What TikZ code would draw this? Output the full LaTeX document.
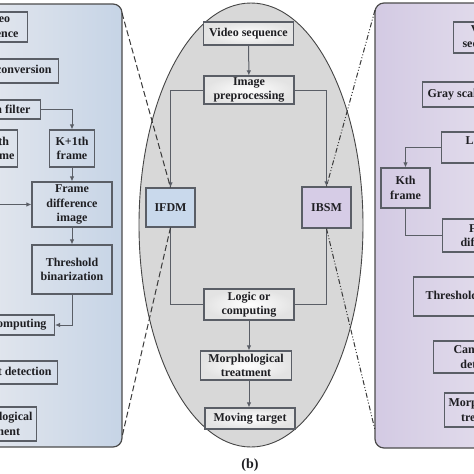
\documentclass[tikz,border=0pt]{standalone}
\usepackage{fontspec}
\setmainfont{Liberation Serif}
\usetikzlibrary{arrows.meta}
\definecolor{edge}{HTML}{5A5E66}
\definecolor{txt}{HTML}{1E1E22}
\definecolor{lpanL}{HTML}{E8EAEF}
\definecolor{lpanR}{HTML}{C6D4E6}
\definecolor{rpanL}{HTML}{D3CAE3}
\definecolor{rpanR}{HTML}{E7E2EF}
\definecolor{ellc}{HTML}{D8D8D8}
\definecolor{ifdmc}{HTML}{C9D9EC}
\definecolor{ibsmc}{HTML}{D6CCE6}
\begin{document}
\begin{tikzpicture}[
			x=1pt, y=-1pt,
			box/.style={draw=edge, line width=1.1pt, font=\bfseries\fontsize{12}{14.5}\selectfont, text=txt, align=center, inner ysep=0pt},
			midbox/.style={box, inner color=white, outer color=gray!22, minimum width=90pt},
			pbox/.style={box, inner xsep=#1},
			arr/.style={draw=edge, line width=1pt, -{Latex[length=5pt,width=4.5pt]}},
			link/.style={draw=edge, line width=1pt},
			zoomline/.style={draw=gray!45!black, line width=1pt}
			]
			\useasboundingbox (0,0) rectangle (474,474);
			\clip (0,0) rectangle (474,474);
			
			% panels and ellipse
			\draw[draw=gray!60!black, line width=1.2pt, rounded corners=9pt, left color=lpanL, right color=lpanR] (-40,4) rectangle (122,447);
			\draw[draw=gray!60!black, line width=1.2pt, rounded corners=9pt, left color=rpanL, right color=rpanR] (375,3) rectangle (530,448);
			\draw[fill=ellc, draw=gray!55!black, line width=0.9pt] (251,225) ellipse [x radius=112, y radius=222];
			
			% middle flow
			\node[midbox, minimum height=23pt] (vseq) at (248.5,33.5) {Video sequence};
			\node[midbox, minimum height=28pt] (prep) at (249,90) {Image\\preprocessing};
			\node[box, fill=ifdmc, minimum width=49pt, minimum height=39pt] (ifdm) at (170.5,207.5) {IFDM};
			\node[box, fill=ibsmc, minimum width=49pt, minimum height=41pt] (ibsm) at (326.5,207.5) {IBSM};
			\node[midbox, minimum height=31pt] (logic) at (249,304.5) {Logic or\\computing};
			\node[midbox, minimum width=91pt, minimum height=29pt] (morph) at (246,365.5) {Morphological\\treatment};
			\node[midbox, minimum height=21pt] (target) at (250,418.5) {Moving target};
			\node[font=\bfseries\fontsize{14}{16}\selectfont, text=txt] (cap) at (250,465) {(b)};
			
			\draw[arr] (vseq) -- (prep);
			\draw[arr] (prep.west) -| (ifdm.north);
			\draw[arr] (prep.east) -| (ibsm.north);
			\draw[link] (ifdm.south) |- (logic.west);
			\draw[link] (ibsm.south) |- (logic.east);
			\draw[arr] (logic.south) -- (logic.south |- morph.north);
			\draw[arr] (logic.south |- morph.south) -- (logic.south |- target.north);
			
			% left panel (IFDM)
			\node[pbox=9pt, anchor=east, minimum height=30pt] (lvid) at (28,27) {Video\\sequence};
			\node[pbox=7pt, anchor=east, minimum height=24pt] (lgray) at (59,71) {Gray conversion};
			\node[pbox=10pt, anchor=east, minimum height=19pt] (lfilt) at (41,109.5) {Median filter};
			\node[pbox=3pt, anchor=east, minimum height=37pt] (lkth) at (18,148.5) {Kth\\frame};
			\node[box, minimum width=45pt, minimum height=37pt] (lkp1) at (72,148.5) {K+1th\\frame};
			\node[box, minimum width=80pt, minimum height=45pt] (lfd) at (72,204.5) {Frame\\difference\\image};
			\node[box, minimum width=80pt, minimum height=49pt] (lthr) at (72,269.5) {Threshold\\binarization};
			\node[pbox=8pt, anchor=east, minimum height=20pt] (llog) at (55,325) {Logic or computing};
			\node[pbox=6pt, anchor=east, minimum height=23pt] (ldet) at (58,372.5) {Target detection};
			\node[pbox=4pt, anchor=east, minimum height=34pt] (lmor) at (37,424) {Morphological\\treatment};
			
			\draw[arr] (lfilt.east) -| (lkp1.north);
			\draw[arr] (lkp1) -- (lfd);
			\draw[arr] (lkth.south) |- (lfd.west);
			\draw[arr] (lfd) -- (lthr);
			\draw[arr] (lthr.south) |- (llog.east);
			
			% right panel (IBSM)
			\node[pbox=9pt, anchor=west, minimum height=31pt] (rvid) at (453,37.5) {Video\\sequence};
			\node[pbox=5pt, anchor=west, minimum height=25pt] (rgray) at (422,94.5) {Gray scale conversion};
			\node[pbox=24pt, anchor=west, minimum height=31pt] (rlp) at (441,147.5) {Lowpass\\filter};
			\node[box, minimum width=49pt, minimum height=40pt] (rkth) at (405.5,188) {Kth\\frame};
			\node[pbox=18pt, anchor=west, minimum height=33pt] (rfd) at (442,235.5) {Frame\\difference};
			\node[pbox=12pt, anchor=west, minimum height=39pt] (rthr) at (413,296.5) {Threshold segmentation};
			\node[pbox=20pt, anchor=west, minimum height=32pt] (rcan) at (433,357) {Canny edge\\detection};
			\node[pbox=4pt, anchor=west, minimum height=34pt] (rmor) at (444,410) {Morphological\\treatment};
			
			\draw[arr] (rlp.west) -| (rkth.north);
			\draw[link] (rkth.south) |- (rfd.west);
			
			% zoom lines
			\coordinate (ltop) at (122,13);
			\coordinate (lbot) at (122,437);
			\coordinate (rtop) at (375,10);
			\coordinate (rbot) at (375,430);
			\draw[zoomline, dash pattern=on 6pt off 3pt] (ltop) -- (ifdm.north);
			\draw[zoomline, dash pattern=on 6pt off 3pt] (ifdm.south) -- (lbot);
			\draw[zoomline, dash pattern=on 5pt off 2pt on 1pt off 2pt on 1pt off 2pt] (rtop) -- (ibsm.north);
			\draw[zoomline, dash pattern=on 5pt off 2pt on 1pt off 2pt on 1pt off 2pt] (ibsm.south) -- (rbot);
		\end{tikzpicture}
\end{document}
